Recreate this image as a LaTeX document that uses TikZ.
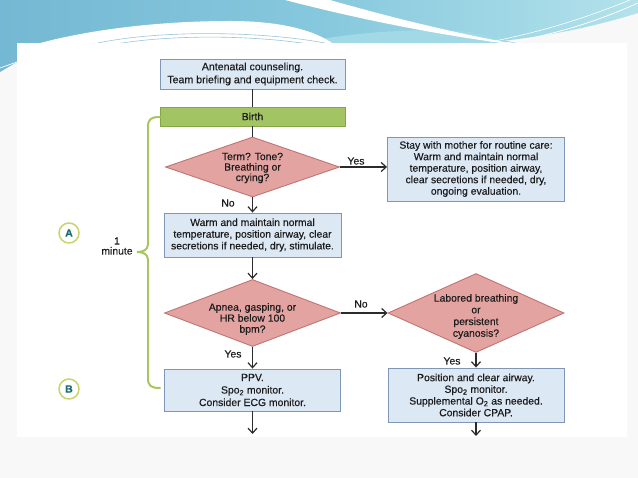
\documentclass[tikz,border=0pt]{standalone}
\usepackage{fontspec}
\setmainfont{Liberation Sans}[FakeBold=0.35]
\usetikzlibrary{arrows.meta,shapes.geometric}
\definecolor{boxfill}{HTML}{DDE8F5}
\definecolor{boxline}{HTML}{7F96B4}
\definecolor{diafill}{HTML}{E3A3A1}
\definecolor{dialine}{HTML}{C27472}
\definecolor{grfill}{HTML}{A3C463}
\definecolor{grline}{HTML}{86A546}
\definecolor{bracecol}{HTML}{A9C562}
\definecolor{ink}{HTML}{1C1C1C}
\definecolor{arr}{HTML}{2B2B2B}
\definecolor{circline}{HTML}{C9D46C}
\definecolor{circtext}{HTML}{1A6E6A}
\definecolor{bandL}{HTML}{74B8D3}
\definecolor{bandM}{HTML}{86C8DD}
\definecolor{bandR}{HTML}{B3E2EB}
\definecolor{sliver}{HTML}{A2D9E6}
\definecolor{outer}{HTML}{F8F8F8}
\definecolor{thinline}{HTML}{9CC6D8}
\begin{document}
\begin{tikzpicture}[x=1pt,y=-1pt,
  font=\fontsize{10.4}{12}\selectfont,
  box/.style={draw=boxline, fill=boxfill, line width=0.9pt, inner sep=0pt, align=center, text=ink},
  gbox/.style={draw=grline, fill=grfill, line width=0.9pt, inner sep=0pt, align=center, text=ink},
  dia/.style={diamond, draw=dialine, fill=diafill, line width=0.9pt, inner sep=0pt},
  txt/.style={align=center, text=ink, inner sep=0pt},
  flow/.style={draw=arr, line width=1.2pt, -{Straight Barb[length=5pt,width=9pt]}},
  link/.style={draw=arr, line width=1.2pt},
  circ/.style={circle, draw=circline, line width=1.5pt, minimum size=20pt, inner sep=0pt, text=circtext, font=\fontsize{10.5}{10.5}\selectfont\bfseries},
  bracestyle/.style={draw=bracecol, line width=2pt, line cap=round}]
\useasboundingbox (0,0) rectangle (638,478);
% background
\fill[outer] (0,0) rectangle (638,478);
\shade[left color=bandL, right color=bandR, middle color=bandM]
  (0,0) -- (638,0) -- (638,13) .. controls (590,28) and (540,38) .. (480,43)
  -- (17,43) -- (17,62) -- (0,72) -- cycle;
\fill[sliver] (300,43) .. controls (360,31) and (420,28) .. (470,32) -- (525,45) -- cycle;
\fill[white] (17,50) .. controls (70,32) and (150,21) .. (230,21)
  .. controls (280,21) and (315,30) .. (335,45) -- cycle;
\draw[thinline, line width=0.6pt] (98,43) .. controls (160,30) and (260,31) .. (325,43);
\draw[thinline, line width=0.6pt] (110,45) .. controls (170,34) and (255,35) .. (315,45);
\fill[white] (285,0) -- (330,0) .. controls (400,20) and (460,34) .. (525,46)
  .. controls (450,37) and (370,22) .. (285,0) -- cycle;
\draw[white, line width=0.8pt] (638,3) .. controls (600,20) and (560,34) .. (500,44);
\draw[white, line width=0.6pt] (630,0) .. controls (590,16) and (550,30) .. (490,42);
\draw[white, line width=0.7pt] (0,68) -- (17,62);
\fill[white] (17,43) rectangle (627,437);
% nodes
\node[box, minimum width=185pt, minimum height=30pt, font=\fontsize{10.6}{13}\selectfont] (counsel) at (252.5,74) {Antenatal counseling.\\Team briefing and equipment check.};
\node[gbox, minimum width=185pt, minimum height=19pt] (birth) at (252.5,116.5) {Birth};
\node[dia, minimum width=174pt, minimum height=60pt] (d1) at (252.5,167) {};
\node[txt, font=\fontsize{10.4}{10.5}\selectfont] (d1t) at (252.5,168) {Term? Tone?\\Breathing or\\crying?};
\node[box, minimum width=177pt, minimum height=64pt, font=\fontsize{10.4}{11.5}\selectfont] (stay) at (476,169) {Stay with mother for routine care:\\Warm and maintain normal\\temperature, position airway,\\clear secretions if needed, dry,\\ongoing evaluation.};
\node[box, minimum width=177pt, minimum height=44pt, font=\fontsize{10.4}{11.7}\selectfont] (warm) at (252.5,235) {Warm and maintain normal\\temperature, position airway, clear\\secretions if needed, dry, stimulate.};
\node[dia, minimum width=176pt, minimum height=67pt] (d2) at (252.5,313) {};
\node[txt, font=\fontsize{10.4}{11}\selectfont] (d2t) at (252.5,319) {Apnea, gasping, or\\HR below 100\\bpm?};
\node[dia, minimum width=176pt, minimum height=79pt] (d3) at (476,313) {};
\node[txt, font=\fontsize{10.4}{11.7}\selectfont] (d3t) at (476,316.5) {Labored breathing\\or\\persistent\\cyanosis?};
\node[box, minimum width=176pt, minimum height=42pt, font=\fontsize{10.4}{12.5}\selectfont] (ppv) at (252.5,390) {PPV.\\Spo\textsubscript{2} monitor.\\Consider ECG monitor.};
\node[box, minimum width=176pt, minimum height=54pt, font=\fontsize{10.4}{11.7}\selectfont] (pos) at (476,395) {Position and clear airway.\\Spo\textsubscript{2} monitor.\\Supplemental O\textsubscript{2} as needed.\\Consider CPAP.};
% labels
\node[txt] (yes1) at (356,161) {Yes};
\node[txt] (no1) at (228,203) {No};
\node[txt] (no2) at (361,304) {No};
\node[txt] (yes2) at (233,354) {Yes};
\node[txt] (yes3) at (452,361) {Yes};
% connectors
\draw[link] (counsel) -- (birth);
\draw[link] (birth) -- (d1);
\draw[flow] (d1) -- (warm);
\draw[flow] (d1.east) -- (d1.east -| stay.west);
\draw[flow] (warm) -- (d2);
\draw[flow] (d2) -- (ppv);
\draw[flow] (d2.east) -- (d3.west);
\draw[flow] (d3) -- (pos);
\coordinate (ppvend) at (252.5,434);
\coordinate (posend) at (476,436);
\draw[flow] (ppv) -- (ppvend);
\draw[flow] (pos) -- (posend);
% brace and markers
\draw[bracestyle] (160,117) .. controls (151,117) and (148,119) .. (148,127)
  -- (148,244) .. controls (148,250) and (143,252) .. (137,252)
  .. controls (143,252) and (148,254) .. (148,260)
  -- (148,378) .. controls (148,386) and (151,388) .. (160,388);
\node[txt, font=\fontsize{10.4}{10}\selectfont] (minute) at (117,246) {1\\minute};
\node[circ] (cA) at (69,233) {A};
\node[circ] (cB) at (69,389) {B};
\end{tikzpicture}
\end{document}
